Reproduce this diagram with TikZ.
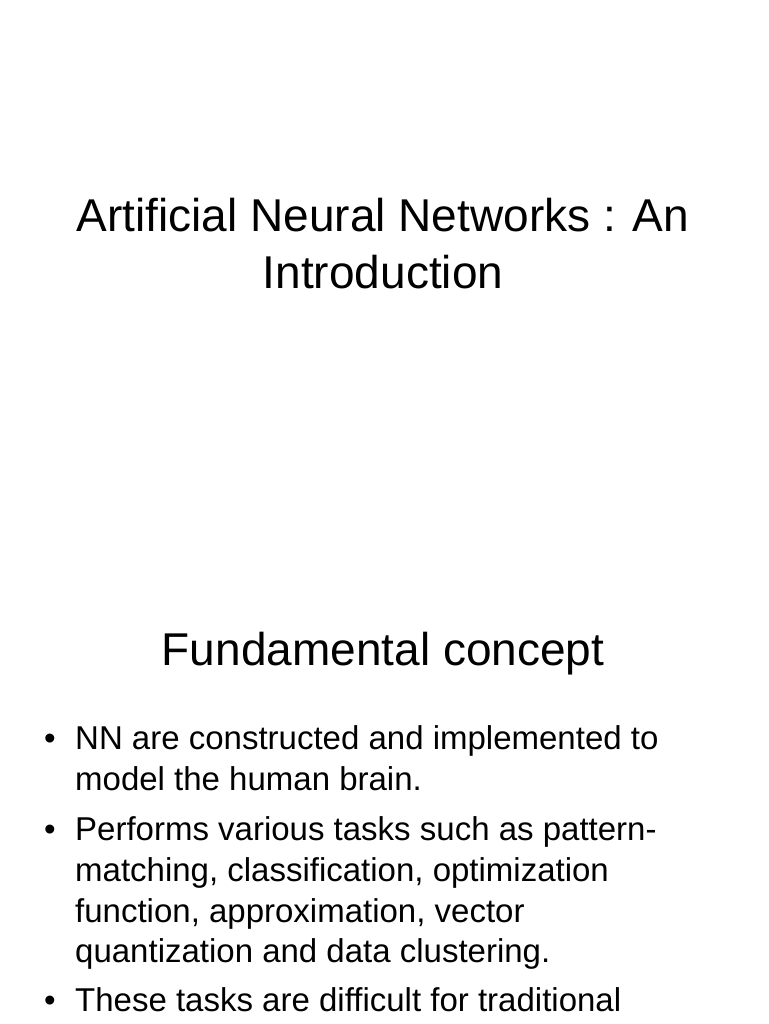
\documentclass[tikz,border=0pt]{standalone}
\usepackage{fontspec}
\setmainfont{Liberation Sans}
\begin{document}
\begin{tikzpicture}[x=1pt,y=-1pt,
 title/.style={font=\fontsize{46}{55}\selectfont,anchor=base,inner sep=0},
 line/.style={font=\fontsize{33}{40}\selectfont,anchor=base west,inner sep=0},
 bul/.style={font=\fontsize{33}{40}\selectfont,anchor=base west,inner sep=0}]
\useasboundingbox[fill=white] (0,0) rectangle (768,1024);
\node[title] (t1) at (383,232) {Artificial Neural Networks : An};
\node[title] (t2) at (383,288) {Introduction};
\node[title] (h) at (383,665) {Fundamental concept};
\node[bul] (b1) at (44,749) {•};
\node[line] (l1) at (75,749) {NN are constructed and implemented to};
\node[line] (l2) at (75,790) {model the human brain.};
\node[bul] (b2) at (44,840) {•};
\node[line] (l3) at (75,840) {Performs various tasks such as pattern-};
\node[line] (l4) at (75,881) {matching, classification, optimization};
\node[line] (l5) at (75,922) {function, approximation, vector};
\node[line] (l6) at (75,962) {quantization and data clustering.};
\node[bul] (b3) at (44,1011) {•};
\node[line] (l7) at (75,1011) {These tasks are difficult for traditional};
\end{tikzpicture}
\end{document}
